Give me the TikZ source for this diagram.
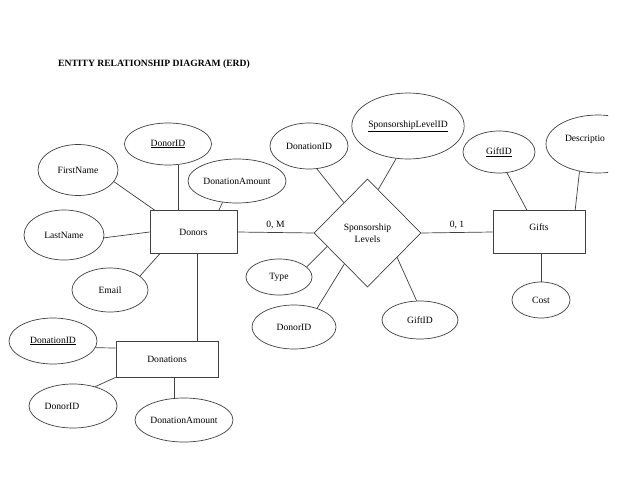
\documentclass[tikz,border=0pt]{standalone}
\usepackage{fontspec}
\setmainfont{Liberation Serif}
\usetikzlibrary{shapes.geometric,calc}
\begin{document}
\begin{tikzpicture}[x=1pt,y=-1pt,
  every node/.style={font=\fontsize{9.6}{11.5}\selectfont},
  conn/.style={draw=black!75, line width=0.7pt},
  attr/.style={draw=black!75, line width=0.7pt, ellipse, inner sep=0pt},
  ent/.style={draw=black!75, line width=0.7pt, rectangle, inner sep=0pt},
  rel/.style={draw=black!75, line width=0.7pt, diamond, aspect=1, inner sep=0pt, align=center},
  card/.style={inner sep=0pt}]
\useasboundingbox[fill=white] (0,0) rectangle (638,493);

\node[anchor=west, inner sep=0pt, font=\fontsize{9.6}{11.5}\selectfont\bfseries] (title) at (58,64) {ENTITY RELATIONSHIP DIAGRAM (ERD)};

% Donors entity and attributes
\node[ent, minimum width=87pt, minimum height=43pt] (donors) at (193.5,232) {Donors};
\node[attr, minimum width=80pt, minimum height=51pt] (fname) at (78,170) {FirstName};
\node[attr, minimum width=87pt, minimum height=42pt] (dnrid) at (168,144) {\underline{DonorID}};
\node[attr, minimum width=98pt, minimum height=44pt] (damt) at (237,181) {DonationAmount};
\node[attr, minimum width=80pt, minimum height=50pt] (lname) at (64,235) {LastName};
\node[attr, minimum width=76pt, minimum height=44pt] (email) at (110,290) {Email};

% Relationship
\node[rel, minimum width=107pt, minimum height=108pt] (sl) at (367.5,233) {Sponsorship\\Levels};
\node[attr, minimum width=78pt, minimum height=46pt] (dnid) at (309,146) {DonationID};
\node[attr, minimum width=110pt, minimum height=66pt] (slid) at (408,126) {\underline{SponsorshipLevelID}};
\node[attr, minimum width=66pt, minimum height=36pt] (type) at (279,277) {Type};
\node[attr, minimum width=84pt, minimum height=44pt] (sdonor) at (294,327) {DonorID};
\node[attr, minimum width=76pt, minimum height=38pt] (sgift) at (420,320) {GiftID};

% Gifts entity
\node[ent, minimum width=92pt, minimum height=43pt, label={[yshift=5pt]center:Gifts}] (gifts) at (539,232) {};
\node[attr, minimum width=72pt, minimum height=42pt] (gid) at (499,152) {\underline{GiftID}};
\begin{scope}
\clip (500,100) rectangle (608,190);
\node[attr, minimum width=104pt, minimum height=58pt, label={[xshift=-13pt,yshift=5pt]center:Descriptio}] (desc) at (598,144) {};
\end{scope}
\node[attr, minimum width=58pt, minimum height=36pt] (cost) at (541,300) {Cost};

% Donations entity
\node[ent, minimum width=102pt, minimum height=36pt] (donations) at (167,359) {Donations};
\node[attr, minimum width=88pt, minimum height=46pt] (dnid2) at (53,341) {\underline{DonationID}};
\node[attr, minimum width=88pt, minimum height=44pt, label={[xshift=-11pt]center:DonorID}] (ddonor) at (73,406) {};
\node[attr, minimum width=98pt, minimum height=44pt] (damt2) at (184,420) {DonationAmount};

% Connectors: Donors
\draw[conn] (fname.-18) -- ([xshift=5pt]donors.north west);
\path ($(donors.north west)!0.33!(donors.north east)$) coordinate (p1);
\draw[conn] (p1) -- (p1 |- dnrid.south);
\draw[conn] (damt.-124) -- ($(donors.north west)!0.79!(donors.north east)$);
\draw[conn] (lname.-4) -- (donors.west);
\draw[conn] (email.25) -- ($(donors.south west)!0.115!(donors.south east)$);
\path ($(donations.north west)!0.8!(donations.north east)$) coordinate (p2);
\draw[conn] (p2 |- donors.south) -- (p2);

% Connectors: relationship
\draw[conn] (donors.east) -- node[card, above=3pt] (cm) {0, M} (sl.west);
\draw[conn] (sl.east) -- node[card, above=3pt] (c1) {0, 1} (gifts.west);
\draw[conn] (dnid.-71) -- ($(sl.west)!0.56!(sl.north)$);
\draw[conn] (slid.-110) -- ($(sl.north)!0.2!(sl.east)$);
\draw[conn] (type.20) -- ($(sl.west)!0.25!(sl.south)$);
\draw[conn] (sdonor.39) -- ($(sl.west)!0.57!(sl.south)$);
\draw[conn] (sgift.100) -- ($(sl.south)!0.55!(sl.east)$);

% Connectors: Gifts
\draw[conn] (gid.-69) -- ($(gifts.north west)!0.37!(gifts.north east)$);
\draw[conn] (desc.-124.6) -- ($(gifts.north west)!0.89!(gifts.north east)$);
\draw[conn] (cost.north |- gifts.south) -- (cost.north);

% Connectors: Donations
\draw[conn] (dnid2.-9) -- ($(donations.north west)!0.2!(donations.south west)$);
\draw[conn] (ddonor.41) -- (donations.south west);
\path ($(donations.south west)!0.57!(donations.south east)$) coordinate (p3);
\draw[conn] (p3) -- (p3 |- damt2.north);
\end{tikzpicture}
\end{document}
